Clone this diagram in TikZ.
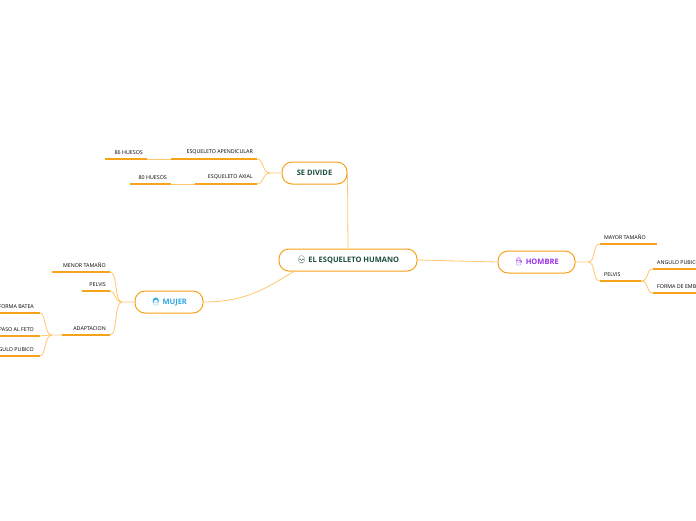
\documentclass[tikz,border=0pt]{standalone}
\usepackage{fontspec}
\setmainfont{Open Sans}
\newfontfamily\emo{Noto Emoji}
\definecolor{ln}{HTML}{FFC66B}
\definecolor{ul}{HTML}{F7A21B}
\definecolor{dg}{HTML}{1B4D3E}
\definecolor{pu}{HTML}{9B2FE8}
\definecolor{bl}{HTML}{2FA6E6}
\begin{document}
\begin{tikzpicture}[x=1pt,y=-1pt,
 main/.style={draw=ul,line width=1pt,rounded corners=10pt,fill=white,minimum height=22pt,font=\fontsize{7.5}{8}\selectfont\bfseries,inner sep=0pt},
 lbl/.style={font=\fontsize{5.3}{6}\selectfont,inner sep=1pt},
 under/.style={draw=ul,line width=1.2pt},
 conn/.style={draw=ln,line width=0.8pt}]
\useasboundingbox (0,0) rectangle (696,520);
\clip (0,0) rectangle (696,520);
% main nodes
\node[main,minimum width=138pt,text=dg] (c) at (348,260) {{\emo 💀}\ EL ESQUELETO HUMANO};
\node[main,minimum width=65pt,text=dg] (sd) at (314.5,173) {SE DIVIDE};
\node[main,minimum width=77pt,text=pu] (h) at (536.5,262) {{\emo 👦}\ HOMBRE};
\node[main,minimum width=68pt,text=bl] (m) at (169,302) {{\emo 👩}\ MUJER};
% coordinates for leaf lines
\coordinate (apR) at (257,159); \coordinate (apL) at (171,159);
\coordinate (h86R) at (147,159); \coordinate (h86L) at (105,159);
\coordinate (axR) at (257,184); \coordinate (axL) at (195,184);
\coordinate (h80R) at (171,184); \coordinate (h80L) at (130,184);
\coordinate (mtR) at (110,272); \coordinate (mtL) at (52,272);
\coordinate (pvR) at (110,291); \coordinate (pvL) at (82,291);
\coordinate (adR) at (110,335); \coordinate (adL) at (62,335);
\coordinate (fbR) at (40,313); \coordinate (fbL) at (-10,313);
\coordinate (pfR) at (40,336); \coordinate (pfL) at (-10,336);
\coordinate (upR) at (40,356); \coordinate (upL) at (-10,356);
\coordinate (myL) at (600,244); \coordinate (myR) at (657,244);
\coordinate (phL) at (600,281); \coordinate (phR) at (641,281);
\coordinate (anL) at (653,269); \coordinate (anR) at (720,269);
\coordinate (feL) at (653,293); \coordinate (feR) at (720,293);
% connectors
\draw[conn] (c.north) -- (sd.east);
\draw[conn] (c.east) -- (h.west);
\draw[conn] (m.east) .. controls (250,302) and (270,285) .. (295,271);
\draw[conn] (sd.west) -- (270,173) .. controls (262,173) and (264,159) .. (apR);
\draw[conn] (270,173) .. controls (262,173) and (264,184) .. (axR);
\draw[conn] (apL) -- (h86R); \draw[conn] (axL) -- (h80R);
\draw[conn] (m.west) -- (122,302) .. controls (114,302) and (118,272) .. (mtR);
\draw[conn] (122,302) .. controls (114,302) and (116,291) .. (pvR);
\draw[conn] (122,302) .. controls (114,302) and (118,335) .. (adR);
\draw[conn] (adL) -- (52,335) .. controls (44,335) and (46,313) .. (fbR);
\draw[conn] (52,335) .. controls (46,335) and (44,336) .. (pfR);
\draw[conn] (52,335) .. controls (44,335) and (46,356) .. (upR);
\draw[conn] (h.east) -- (588,262) .. controls (596,262) and (592,244) .. (myL);
\draw[conn] (588,262) .. controls (596,262) and (592,281) .. (phL);
\draw[conn] (phR) .. controls (650,281) and (645,269) .. (anL);
\draw[conn] (phR) .. controls (650,281) and (645,293) .. (feL);
% underlines
\foreach \a/\b in {apL/apR,h86L/h86R,axL/axR,h80L/h80R,mtL/mtR,pvL/pvR,adL/adR,fbL/fbR,pfL/pfR,upL/upR,myL/myR,phL/phR,anL/anR,feL/feR}
  \draw[under] (\a) -- (\b);
% labels
\node[lbl,anchor=south east] (t1) at ([xshift=-3pt,yshift=3pt]apR) {ESQUELETO APENDICULAR};
\node[lbl,anchor=south east] (t2) at ([xshift=-3pt,yshift=3pt]h86R) {86 HUESOS};
\node[lbl,anchor=south east] (t3) at ([xshift=-3pt,yshift=3pt]axR) {ESQUELETO AXIAL};
\node[lbl,anchor=south east] (t4) at ([xshift=-3pt,yshift=3pt]h80R) {80 HUESOS};
\node[lbl,anchor=south east] (t5) at ([xshift=-3pt,yshift=3pt]mtR) {MENOR TAMAÑO};
\node[lbl,anchor=south east] (t6) at ([xshift=-3pt,yshift=3pt]pvR) {PELVIS};
\node[lbl,anchor=south east] (t7) at ([xshift=-3pt,yshift=3pt]adR) {ADAPTACION};
\node[lbl,anchor=south east] (t8) at ([xshift=-5pt,yshift=3pt]fbR) {FORMA BATEA};
\node[lbl,anchor=south east] (t9) at ([xshift=-5pt,yshift=3pt]pfR) {PASO AL FETO};
\node[lbl,anchor=south east] (t10) at ([xshift=-5pt,yshift=3pt]upR) {ANGULO PUBICO};
\node[lbl,anchor=south west] (t11) at ([xshift=3pt,yshift=3pt]myL) {MAYOR TAMAÑO};
\node[lbl,anchor=south west] (t12) at ([xshift=3pt,yshift=3pt]phL) {PELVIS};
\node[lbl,anchor=south west] (t13) at ([xshift=3pt,yshift=3pt]anL) {ANGULO PUBICO};
\node[lbl,anchor=south west] (t14) at ([xshift=3pt,yshift=3pt]feL) {FORMA DE EMBUDO};
\end{tikzpicture}
\end{document}
